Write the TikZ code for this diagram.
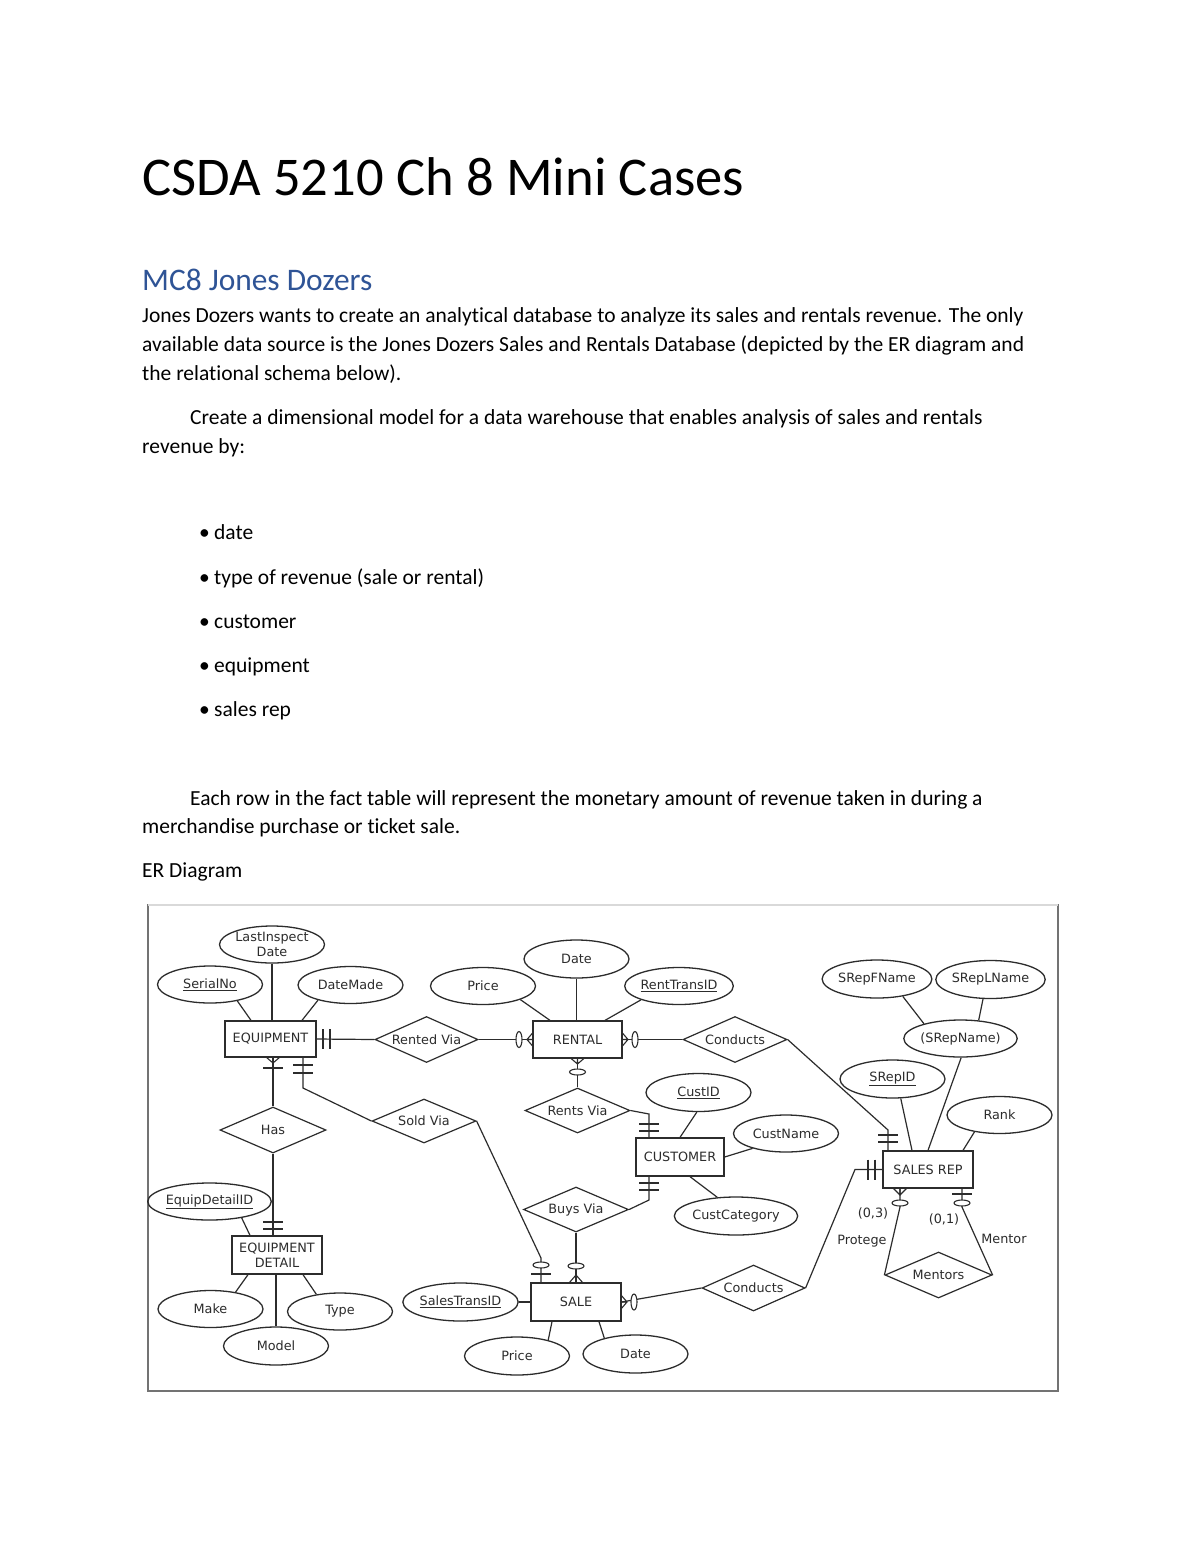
\documentclass[tikz,border=0pt]{standalone}
\usepackage{fontspec}
\setmainfont{Carlito}[Ligatures=NoCommon]
\newfontfamily\erfont{DejaVu Sans}
\usetikzlibrary{shapes.geometric,calc}
\definecolor{headblue}{HTML}{2F5496}
\definecolor{ink}{HTML}{2C2C2C}
\newcommand\cbarH[2]{\draw[card] ({#1-10},#2) -- ({#1+10},#2);}
\newcommand\cbarV[2]{\draw[card] (#1,{#2-10}) -- (#1,{#2+10});}
\newcommand\covalH[2]{\draw[card,fill=white] (#1,#2) ellipse [x radius=8, y radius=3];}
\newcommand\covalV[2]{\draw[card,fill=white] (#1,#2) ellipse [x radius=3, y radius=8];}
% crow foot on a vertical connector: x, apex y, edge y
\newcommand\crowVert[3]{\draw[card] ({#1-7},#3) -- (#1,#2) -- ({#1+7},#3) (#1,#2) -- (#1,#3);}
% crow foot on a horizontal connector: apex x, y, edge x
\newcommand\crowHorz[3]{\draw[card] (#3,{#2-7}) -- (#1,#2) -- (#3,{#2+7}) (#1,#2) -- (#3,#2);}
\begin{document}
\begin{tikzpicture}[x=1pt,y=-1pt,
  body/.style={anchor=base west, inner sep=0, font=\fontsize{21.5}{26}\selectfont},
  erf/.style={font=\erfont\fontsize{12.8}{15.5}\selectfont, text=ink},
  attr/.style={ellipse, draw=ink, line width=1.3pt, inner sep=0, minimum width=105pt, minimum height=37pt, erf},
  ent/.style={rectangle, draw=ink, line width=1.3pt, inner sep=0, minimum width=90pt, minimum height=37pt, erf},
  rel/.style={diamond, aspect=2.3, draw=ink, line width=1.2pt, inner sep=0, minimum width=104pt, minimum height=46pt, erf},
  conn/.style={draw=ink, line width=1.2pt},
  card/.style={draw=ink, line width=1.1pt},
  lbl/.style={erf, inner sep=0}
]
\useasboundingbox (0,0) rectangle (1200,1553);
\fill[white] (0,0) rectangle (1200,1553);

% ---------- page text ----------
\node[anchor=base west, inner sep=0, font=\fontsize{54.6}{60}\selectfont] (title) at (142,195) {CSDA 5210 Ch 8 Mini Cases};
\node[anchor=base west, inner sep=0, font=\fontsize{31.4}{36}\selectfont, text=headblue] (head) at (142,290) {MC8 Jones Dozers};
\node[body] (l1) at (142,322) {Jones Dozers wants to create an analytical database to analyze its sales and rentals revenue. The only};
\node[body] (l2) at (142,351) {available data source is the Jones Dozers Sales and Rentals Database (depicted by the ER diagram and};
\node[body] (l3) at (142,380) {the relational schema below).};
\node[body] (l4) at (190,424) {Create a dimensional model for a data warehouse that enables analysis of sales and rentals};
\node[body] (l5) at (142,453) {revenue by:};
\node[body] (b1) at (199,539) {\makebox[15pt][l]{•}date};
\node[body] (b2) at (199,584) {\makebox[15pt][l]{•}type of revenue (sale or rental)};
\node[body] (b3) at (199,628) {\makebox[15pt][l]{•}customer};
\node[body] (b4) at (199,672) {\makebox[15pt][l]{•}equipment};
\node[body] (b5) at (199,716) {\makebox[15pt][l]{•}sales rep};
\node[body] (l6) at (190,805) {Each row in the fact table will represent the monetary amount of revenue taken in during a};
\node[body] (l7) at (142,833) {merchandise purchase or ticket sale.};
\node[body] (l8) at (142,877) {ER Diagram};

% ---------- frame ----------
\draw[draw=black!55, line width=1.3pt] (148,905) rectangle (1058,1391);
\draw[draw=black!15, line width=1.3pt] (148,905) -- (1058,905);

% ---------- entities ----------
\node[ent, minimum width=91, minimum height=36] (eq) at (270.5,1039) {EQUIPMENT};
\node[ent, minimum width=89] (rental) at (577.5,1039.5) {RENTAL};
\node[ent, minimum width=88, minimum height=38] (cust) at (680,1157) {CUSTOMER};
\node[ent, minimum height=38] (sale) at (576,1302) {SALE};
\node[ent, minimum height=38, align=center] (eqd) at (277,1255) {EQUIPMENT\\DETAIL};
\node[ent] (srep) at (928,1169.5) {SALES REP};

% ---------- attributes ----------
\node[attr] (serial) at (210,984.5) {\underline{SerialNo}};
\node[attr, align=center] (lid) at (272,944.5) {LastInspect\\Date};
\node[attr] (dmade) at (350.5,985) {DateMade};
\node[attr] (rprice) at (483,986) {Price};
\node[attr, minimum height=38] (rdate) at (576.5,959) {Date};
\node[attr] (rtid) at (679,986) {\underline{RentTransID}};
\node[attr, minimum height=38] (custid) at (698.5,1092.5) {\underline{CustID}};
\node[attr] (cname) at (786,1133.5) {CustName};
\node[attr, minimum height=38] (ccat) at (736,1216) {CustCategory};
\node[attr, minimum height=38] (stid) at (460.5,1302) {\underline{SalesTransID}};
\node[attr, minimum height=38] (sprice) at (517,1356) {Price};
\node[attr, minimum height=38] (sdate) at (635.5,1354) {Date};
\node[attr] (edid) at (209.5,1201.5) {\underline{EquipDetailID}};
\node[attr] (make) at (210.5,1309) {Make};
\node[attr] (type) at (340,1311.5) {Type};
\node[attr, minimum height=38] (model) at (276,1346) {Model};
\node[attr, minimum height=38] (sfn) at (877,979) {SRepFName};
\node[attr, minimum height=38] (sln) at (990.5,979.5) {SRepLName};
\node[attr] (sname) at (960.5,1038.5) {(SRepName)};
\node[attr, minimum height=38] (srid) at (892.5,1079) {\underline{SRepID}};
\node[attr] (rank) at (999.5,1115) {Rank};

% ---------- relationships ----------
\node[rel, minimum width=103] (rv) at (426.5,1039.5) {Rented Via};
\node[rel] (cond1) at (735,1039.5) {Conducts};
\node[rel, minimum width=105, minimum height=45] (rentsv) at (577.5,1110.5) {Rents Via};
\node[rel, minimum width=105, minimum height=45] (buysv) at (576,1209.5) {Buys Via};
\node[rel, minimum width=103] (cond2) at (753.5,1288) {Conducts};
\node[rel, minimum height=44] (soldv) at (424,1121) {Sold Via};
\node[rel, minimum width=106] (has) at (273,1130) {Has};
\node[rel, minimum width=107] (mentors) at (938.5,1275) {Mentors};

% ---------- bend points ----------
\coordinate (k1) at (888,1130);
\coordinate (k2) at (649,1114);
\coordinate (k3) at (649,1200);
\coordinate (k4) at (303,1088);
\coordinate (k5) at (541,1258);
\coordinate (k6) at (855,1169.5);
\coordinate (k7) at (900,1207);
\coordinate (k8) at (962,1207);

% ---------- attribute links ----------
\draw[conn] (serial.-31) -- ([xshift=-19.5pt]eq.north);
\draw[conn] (lid.south) -- (lid.south |- eq.north);
\draw[conn] (dmade.-155) -- ([xshift=31.5pt]eq.north);
\draw[conn] (rprice.-20) -- ([xshift=-27.5pt]rental.north);
\draw[conn] (rdate.south) -- (rdate.south |- rental.north);
\draw[conn] (rtid.-160) -- ([xshift=27.5pt]rental.north);
\draw[conn] (custid.-95) -- (cust.north);
\draw[conn] (cname.-156) -- (cust.east);
\draw[conn] (ccat.135) -- ([xshift=10pt]cust.south);
\draw[conn] (stid.east) -- (sale.west);
\draw[conn] (sprice.27) -- ([xshift=-24pt]sale.south);
\draw[conn] (sdate.153) -- ([xshift=23pt]sale.south);
\draw[conn] (edid.-27) -- ([xshift=-27pt]eqd.north);
\draw[conn] (make.34) -- ([xshift=-29pt]eqd.south);
\draw[conn] (model.north) -- (model.north |- eqd.south);
\draw[conn] (type.144) -- ([xshift=26pt]eqd.south);
\draw[conn] (sfn.-34) -- (sname.158);
\draw[conn] (sln.-111) -- (sname.45);
\draw[conn] (sname.-88) -- (srep.north);
\draw[conn] (srid.-67) -- ([xshift=-16pt]srep.north);
\draw[conn] (rank.-146) -- ([xshift=35pt]srep.north);

% ---------- relationship links ----------
\draw[conn] (eq.east) -- (rv.west);
\draw[conn] (rv.east) -- (rental.west);
\draw[conn] (rental.east) -- (cond1.west);
\draw[conn] (cond1.east) -- (k1) -- (k1 |- srep.north);
\draw[conn] (rental.south) -- (rentsv.north);
\draw[conn] (rentsv.east) -- (k2) -- (k2 |- cust.north);
\draw[conn] (k3 |- cust.south) -- (k3) -- (buysv.east);
\draw[conn] (buysv.south) -- (sale.north);
\draw[conn] (k4 |- eq.south) -- (k4) -- (soldv.west);
\draw[conn] (soldv.east) -- (k5) -- (k5 |- sale.north);
\draw[conn] (sale.east) -- (cond2.west);
\draw[conn] (cond2.east) -- (k6) -- (srep.west);
\draw[conn] (has.north |- eq.south) -- (has.north);
\draw[conn] (has.south) -- (has.south |- eqd.north);
\draw[conn] (k7 |- srep.south) -- (k7) -- (mentors.west);
\draw[conn] (k8 |- srep.south) -- (k8) -- (mentors.east);

% ---------- cardinality marks ----------
\cbarV{323}{1039}\cbarV{330}{1039}
\crowHorz{527}{1039.5}{533}\covalV{519}{1039.5}
\crowHorz{628}{1039.5}{622}\covalV{635}{1039.5}
\crowVert{577.5}{1064}{1058}\covalH{577.5}{1072}
\cbarH{649}{1124}\cbarH{649}{1131}
\cbarH{649}{1183}\cbarH{649}{1190}
\covalH{576}{1266}\crowVert{576}{1275}{1283}
\covalH{541}{1265}\cbarH{541}{1274}
\cbarH{303}{1065}\cbarH{303}{1073}
\crowVert{273}{1063}{1057}\cbarH{273}{1068}
\cbarH{273}{1222}\cbarH{273}{1229}
\crowHorz{627}{1302}{621}\covalV{634}{1302}
\cbarV{868}{1169.5}\cbarV{875}{1169.5}
\cbarH{888}{1135}\cbarH{888}{1142}
\crowVert{900}{1195}{1188}\covalH{900}{1203}
\cbarH{962}{1194}\covalH{962}{1203}

% ---------- role labels ----------
\node[lbl] (c03) at (873,1213) {(0,3)};
\node[lbl] (prot) at (862,1241) {Protege};
\node[lbl] (c01) at (944,1219) {(0,1)};
\node[lbl] (ment) at (1004,1239) {Mentor};
\end{tikzpicture}
\end{document}
